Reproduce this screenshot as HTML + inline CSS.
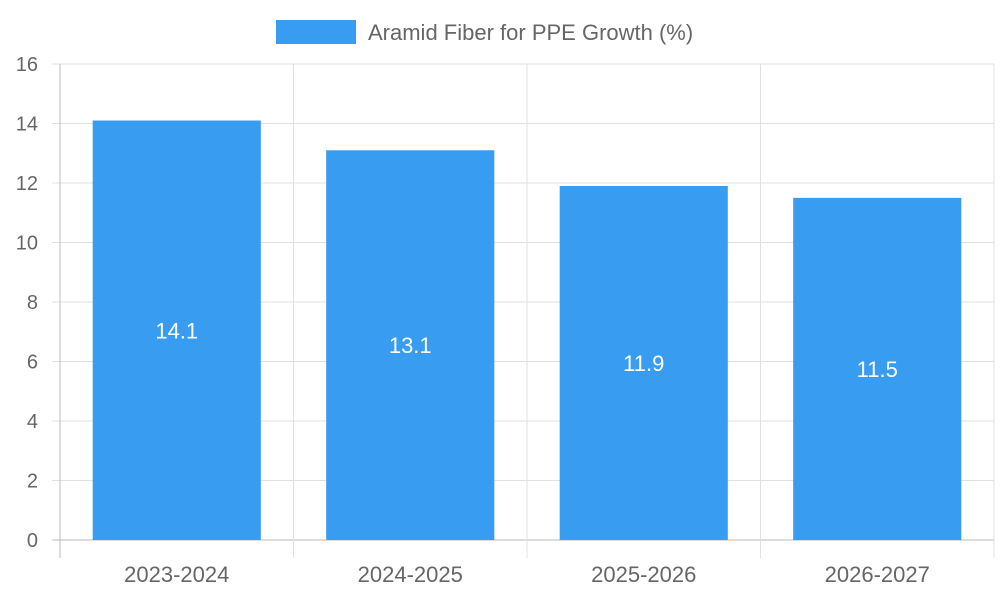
<!DOCTYPE html>
<html><head><meta charset="utf-8"><style>
body{margin:0;background:#fff;}
svg{display:block;font-family:"Liberation Sans",sans-serif;}
</style></head><body>
<svg id="chart" width="1000" height="600">
<g id="grid"></g>
<g id="bars"></g>
<g id="axes"></g>
<g>
<rect x="276" y="20" width="80" height="24" fill="#389cf1"/>
<text x="368" y="40" font-size="22" fill="#666">Aramid Fiber for PPE Growth (%)</text>
</g>
</svg>
<script>
const categories = ["2023-2024","2024-2025","2025-2026","2026-2027"];
const values = [14.1,13.1,11.9,11.5];
const yTicks = [0,2,4,6,8,10,12,14,16];
const NS="http://www.w3.org/2000/svg";
const L=60,R=994,T=64,B=540,yMax=16;
const y=v=>B-(v/yMax)*(B-T);
const bw=(R-L)/categories.length;
const x=i=>L+i*bw;
function mk(tag,attrs,parent,text){const e=document.createElementNS(NS,tag);for(const k in attrs)e.setAttribute(k,attrs[k]);if(text!==undefined)e.textContent=text;document.getElementById(parent).appendChild(e);return e;}
yTicks.forEach(t=>{
  const g=mk("line",{x1:L-8,x2:R,y1:y(t),y2:y(t),stroke:t===0?"#bbb":"#e0e0e0","stroke-width":1},"grid");
  
  
  const lb=mk("text",{x:38,y:y(t)+7,"text-anchor":"end","font-size":20,fill:"#666"},"axes",String(t));
  
  
});
for(let i=0;i<=categories.length;i++){
  const g=mk("line",{x1:x(i),x2:x(i),y1:T,y2:B+18,stroke:i===0?"#bbb":"#e0e0e0","stroke-width":1},"grid");
  
  
}
categories.forEach((c,i)=>{
  const pad=bw*0.14;
  const r=mk("rect",{x:x(i)+pad,y:y(values[i]),width:bw-2*pad,height:B-y(values[i]),fill:"#389cf1"},"bars");
  
  
  const v=mk("text",{x:x(i)+bw/2,y:(y(values[i])+B)/2+8,"text-anchor":"middle","font-size":22,fill:"#fff"},"bars",values[i].toFixed(1));
  
  
  const lb=mk("text",{x:x(i)+bw/2,y:582,"text-anchor":"middle","font-size":22,fill:"#666"},"axes",c);
  
  
});
</script>
</body></html>
